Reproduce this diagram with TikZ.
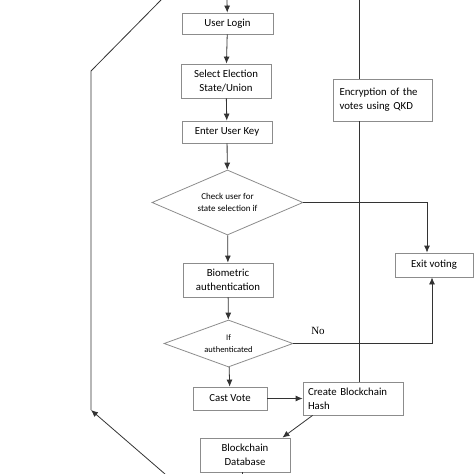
\documentclass[tikz,border=0pt]{standalone}
\usepackage{fontspec}
\setmainfont{Carlito}
\newfontfamily\serifno{Liberation Serif}
\usepackage{tikz}
\usetikzlibrary{shapes}
\usetikzlibrary{shapes.geometric}
\usetikzlibrary{arrows.meta}
\usetikzlibrary{positioning}
\tikzset{
        stagebox/.style={draw=black!45, line width=0.8pt, rectangle, align=center, inner sep=2pt, font=\fontsize{10.8}{14}\selectfont},
        testbox/.style={draw=black!45, line width=0.8pt, diamond, aspect=2.3, inner sep=0pt, align=center, font=\fontsize{9}{12}\selectfont},
        flow/.style={draw=black!80, line width=0.8pt, -{Latex[length=7pt,width=6pt]}},
        wire/.style={draw=black!80, line width=0.8pt}
}
\begin{document}
\begin{tikzpicture}[x=1pt, y=-1pt]
        \useasboundingbox (0,0) rectangle (474,474);
        \coordinate (start) at (227,0);
        \node (login) at (227.5,23.5) [stagebox, minimum width=91pt, minimum height=21pt] {User Login};
        \node (select) at (226,81) [stagebox, minimum width=90pt, minimum height=34pt, inner sep=0pt] {Select Election\\State/Union};
        \node (key) at (227,132) [stagebox, minimum width=90pt, minimum height=22pt] {Enter User Key};
        \node (check) at (227.5,202.5) [testbox, minimum width=151pt, minimum height=65pt] {Check user for\\state selection if};
        \node (bio) at (228,280) [stagebox, minimum width=90pt, minimum height=34pt, inner sep=0pt] {Biometric\\authentication};
        \node (auth) at (228.5,343.5) [testbox, minimum width=129pt, minimum height=47pt, font=\fontsize{8.5}{12}\selectfont] {If\\authenticated};
        \node (cast) at (230,398.5) [stagebox, minimum width=74pt, minimum height=23pt] {Cast Vote};
        \node (hash) at (353,398.5) [stagebox, align=left, minimum width=100pt, minimum height=33pt, inner sep=0pt, text width=90pt] {Create Blockchain\\Hash};
        \node (db) at (245,455) [stagebox, minimum width=90pt, minimum height=34pt, inner sep=0pt] {Blockchain\\Database};
        \node (enc) at (382.5,100) [stagebox, align=left, minimum width=99pt, minimum height=42pt, text width=86pt] {Encryption of the\\votes using QKD};
        \node (exit) at (434,265) [stagebox, minimum width=78pt, minimum height=24pt] {Exit voting};
        \coordinate (qkdtop) at (359,0);
        \coordinate (dbout) at (242,474);
        \coordinate (loopin) at (165,474);
        \coordinate (loopfoot) at (91,410);
        \coordinate (loopknee) at (91,71);
        \coordinate (looptop) at (161,0);
        \draw[flow] (start) -- (login);
        \draw[flow] (login) -- (select);
        \draw[flow] (select) -- (key);
        \draw[flow] (key) -- (check);
        \draw[flow] (check) -- (bio);
        \draw[flow] (bio) -- (auth);
        \draw[flow] (auth) -- (cast);
        \draw[flow] (cast) -- (hash);
        \draw[flow] (check.east) -| ([xshift=-7pt]exit.north);
        \draw[flow] (auth.east) -| ([xshift=-2pt]exit.south);
        \node (no) at (318,331) [font=\serifno\fontsize{11}{13}\selectfont] {No};
        \draw[wire] (qkdtop) -- (qkdtop |- enc.north);
        \draw[wire] (enc.south -| qkdtop) -- (hash.north -| qkdtop);
        \draw[flow] ([xshift=10pt]hash.south west) -- ([xshift=-8pt]db.north east);
        \draw[wire] (db.south -| dbout) -- (dbout);
        \draw[flow] (loopin) -- (loopfoot);
        \draw[wire] (loopfoot) -- (loopknee) -- (looptop);
\end{tikzpicture}
\end{document}
